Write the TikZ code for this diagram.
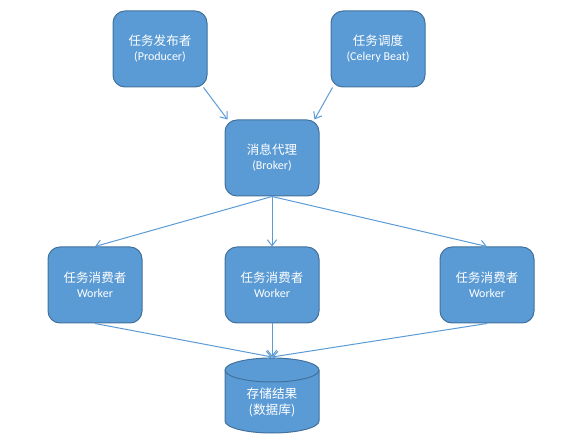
\documentclass[tikz,border=0pt]{standalone}
\usepackage{fontspec}
\setmainfont{Carlito}
\newfontfamily\cjk{Noto Sans CJK SC}
\usetikzlibrary{arrows.meta,calc}
\definecolor{boxblue}{HTML}{5B9BD5}
\definecolor{boxedge}{HTML}{41719C}
\definecolor{linkblue}{HTML}{5B9BD5}
\tikzset{
  box/.style={draw=boxedge, line width=0.75pt, fill=boxblue, rounded corners=9pt,
    minimum width=70.5pt, minimum height=57pt, inner sep=0pt, text=white, align=center,
    font=\fontsize{9}{11.25}\selectfont},
  link/.style={draw=linkblue, line width=0.75pt, -{Straight Barb[length=4.5pt,width=7pt]}},
  dblabel/.style={text=white, align=center, inner sep=0pt, font=\cjk\fontsize{9.5}{12}\selectfont}
}
\begin{document}
\begin{tikzpicture}[x=0.75pt,y=-0.75pt]
\useasboundingbox (0,0) rectangle (567,441);
\node[box] (p) at (160,49) {{\cjk\fontsize{9.4}{11.25}\selectfont 任务发布者}\\(Producer)};
\node[box] (c) at (378,49) {{\cjk\fontsize{9.4}{11.25}\selectfont 任务调度}\\(Celery Beat)};
\node[box] (b) at (272,158) {{\cjk\fontsize{9.4}{11.25}\selectfont 消息代理}\\(Broker)};
\node[box] (w1) at (95,285) {{\cjk\fontsize{9.4}{11.25}\selectfont 任务消费者}\\Worker};
\node[box] (w2) at (272,285) {{\cjk\fontsize{9.4}{11.25}\selectfont 任务消费者}\\Worker};
\node[box] (w3) at (487,285) {{\cjk\fontsize{9.4}{11.25}\selectfont 任务消费者}\\Worker};
% database cylinder
\path[draw=boxedge, line width=0.75pt, fill=boxblue]
  (225,370) -- (225,421) arc[start angle=180, end angle=360, x radius=35.25pt, y radius=9pt]
  -- (319,370) arc[start angle=0, end angle=180, x radius=35.25pt, y radius=9pt] -- cycle;
\draw[boxedge, line width=0.75pt] (225,370) arc[start angle=180, end angle=360, x radius=35.25pt, y radius=9pt];
\coordinate (dbtop) at (272,357);
\node[dblabel] (db) at (272,402) {\cjk 存储结果\\\cjk (数据库)};
% connectors
\draw[link] ($(p.south east)+(-4,0)$) -- ($(b.north west)+(3,0)$);
\draw[link] ($(c.south west)+(2,0)$) -- ($(b.north east)+(-5,0)$);
\draw[link] (b.south) -- (w1.north);
\draw[link] (b.south) -- (w2.north);
\draw[link] (b.south) -- (w3.north);
\draw[link] (w1.south) -- (dbtop);
\draw[link] (w2.south) -- (dbtop);
\draw[link] (w3.south) -- (dbtop);
\end{tikzpicture}
\end{document}
